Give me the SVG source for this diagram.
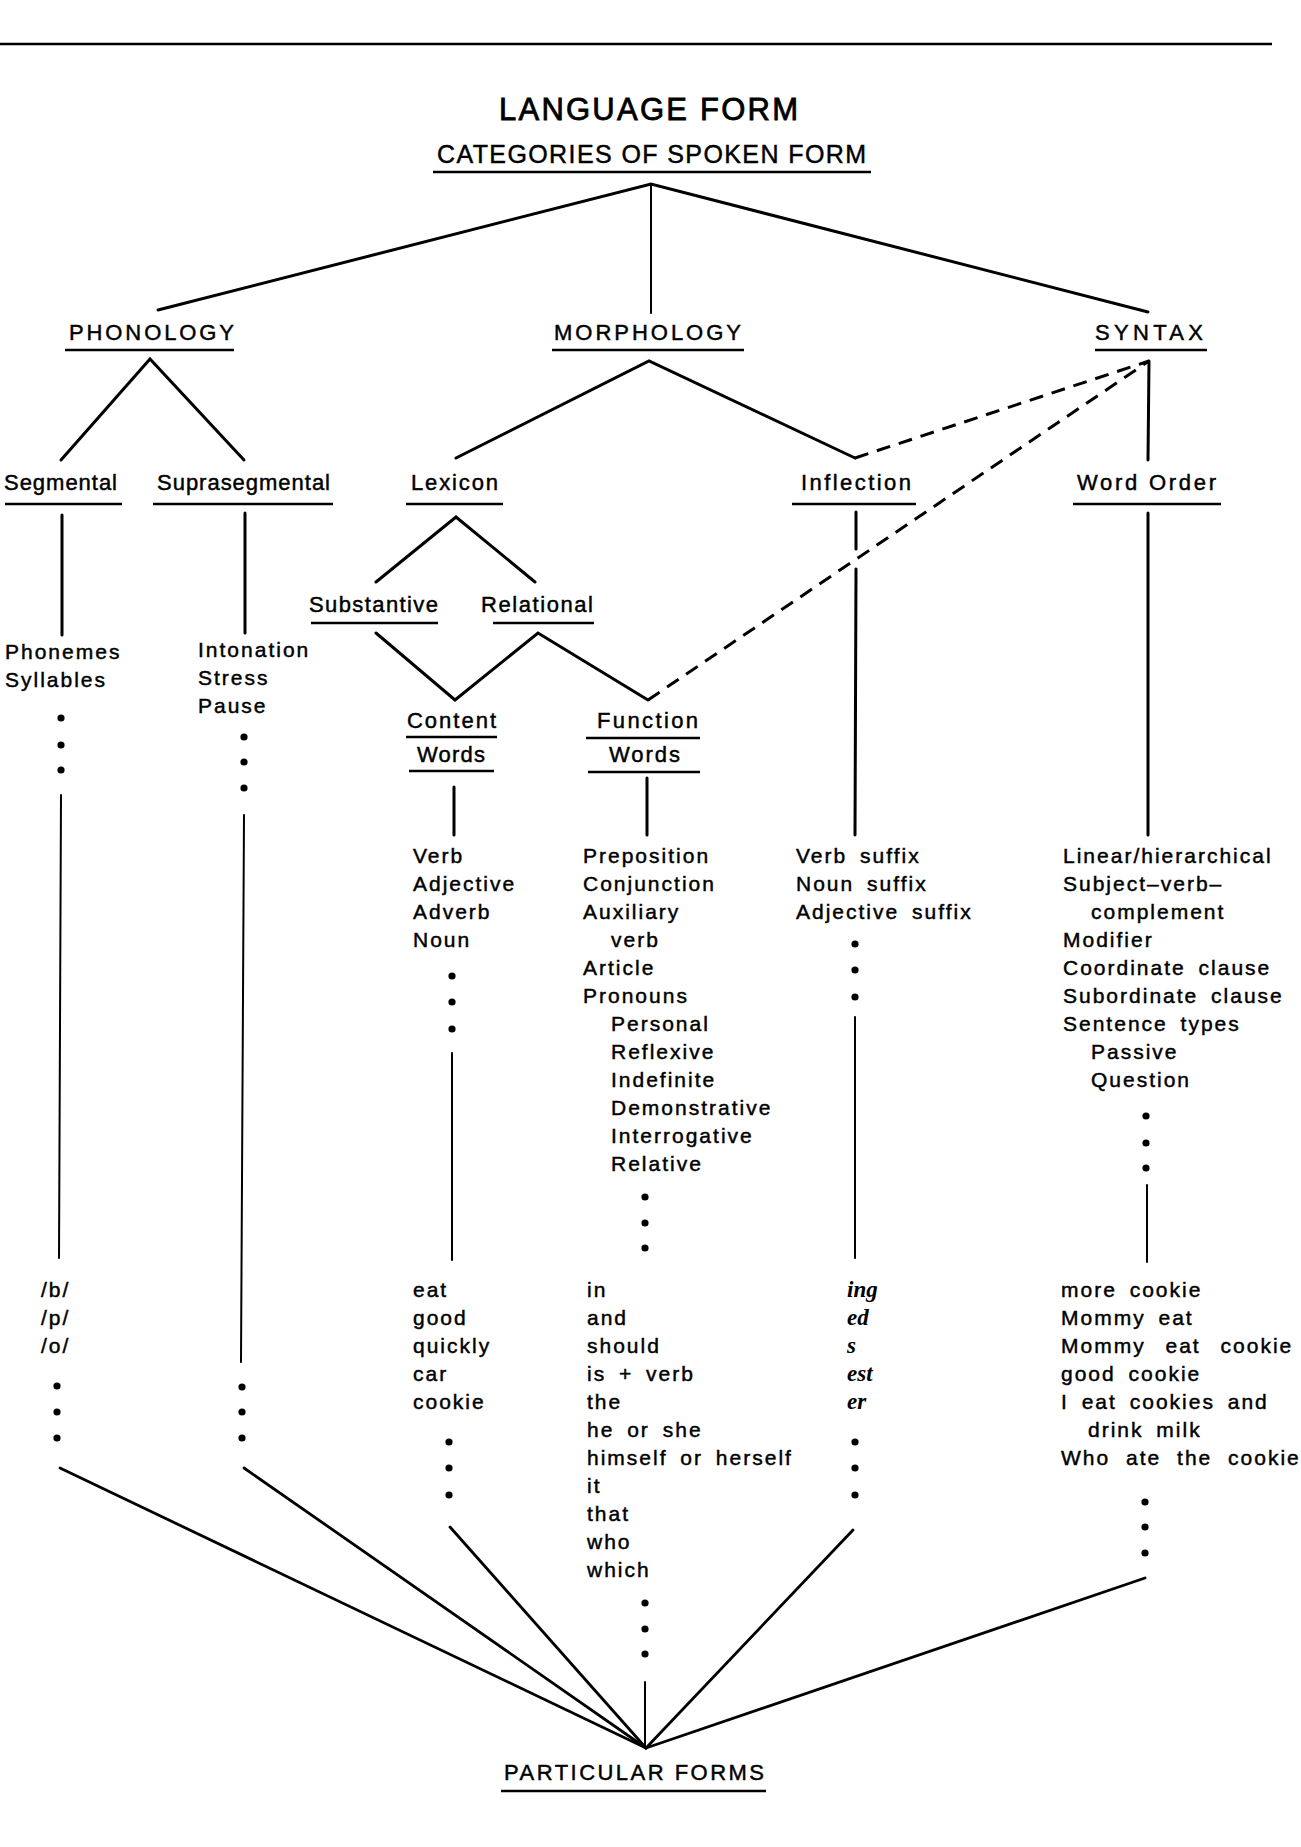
<svg xmlns="http://www.w3.org/2000/svg" width="1301" height="1847" viewBox="0 0 1301 1847">
<style>
text{font-family:"Liberation Sans",Arial,sans-serif;fill:#000;stroke:#000;stroke-width:0.45}
.t{font-size:21px;letter-spacing:2px;word-spacing:5px}
.h{font-size:22px}
.it{font-family:"Liberation Serif","Times New Roman",serif;font-style:italic;font-weight:bold;font-size:23px;stroke-width:0}
.ln{stroke:#000;stroke-width:3;fill:none;stroke-linecap:round}
.thin{stroke-width:2}
.low{stroke-width:2.8}
.ul{stroke:#000;stroke-width:2.6;fill:none}
.dash{stroke-dasharray:14 9;stroke-linecap:butt}
.dot{fill:#000}
</style>
<rect width="1301" height="1847" fill="#fff"/>
<line x1="0" y1="44" x2="1272" y2="44" class="ul"/>

<g id="title">
<text x="499" y="120" style="font-size:31px;stroke-width:0.8" textLength="299" lengthAdjust="spacing">LANGUAGE FORM</text>
</g>
<g id="categories">
<text x="437" y="163" style="font-size:25px" textLength="429" lengthAdjust="spacing">CATEGORIES OF SPOKEN FORM</text>
<line x1="433" y1="172" x2="871" y2="172" class="ul"/>
</g>
<g id="phonology">
<text x="69" y="340" class="h" textLength="165" lengthAdjust="spacing">PHONOLOGY</text>
<line x1="65" y1="350" x2="234" y2="350" class="ul"/>
</g>
<g id="morphology">
<text x="554" y="340" class="h" textLength="187" lengthAdjust="spacing">MORPHOLOGY</text>
<line x1="552" y1="350" x2="744" y2="350" class="ul"/>
</g>
<g id="syntax">
<text x="1095" y="340" class="h" textLength="108" lengthAdjust="spacing">SYNTAX</text>
<line x1="1095" y1="350" x2="1207" y2="350" class="ul"/>
</g>
<g id="segmental">
<text x="4" y="490" class="h" textLength="113" lengthAdjust="spacing">Segmental</text>
<line x1="5" y1="504" x2="122" y2="504" class="ul"/>
</g>
<g id="suprasegmental">
<text x="157" y="490" class="h" textLength="173" lengthAdjust="spacing">Suprasegmental</text>
<line x1="153" y1="504" x2="333" y2="504" class="ul"/>
</g>
<g id="lexicon">
<text x="411" y="490" class="h" textLength="87" lengthAdjust="spacing">Lexicon</text>
<line x1="406" y1="504" x2="503" y2="504" class="ul"/>
</g>
<g id="inflection">
<text x="801" y="490" class="h" textLength="110" lengthAdjust="spacing">Inflection</text>
<line x1="792" y1="504" x2="916" y2="504" class="ul"/>
</g>
<g id="word-order">
<text x="1077" y="490" class="h" textLength="139" lengthAdjust="spacing">Word Order</text>
<line x1="1073" y1="504" x2="1221" y2="504" class="ul"/>
</g>
<g id="substantive">
<text x="309" y="612" class="h" textLength="129" lengthAdjust="spacing">Substantive</text>
<line x1="311" y1="623" x2="438" y2="623" class="ul"/>
</g>
<g id="relational">
<text x="481" y="612" class="h" textLength="112" lengthAdjust="spacing">Relational</text>
<line x1="493" y1="623" x2="594" y2="623" class="ul"/>
</g>
<g id="content-words">
<text x="407" y="728" class="h" textLength="89" lengthAdjust="spacing">Content</text>
<line x1="406" y1="737" x2="497" y2="737" class="ul"/>
<text x="417" y="762" class="h" textLength="68" lengthAdjust="spacing">Words</text>
<line x1="409" y1="771" x2="494" y2="771" class="ul"/>
</g>
<g id="function-words">
<text x="597" y="728" class="h" textLength="101" lengthAdjust="spacing">Function</text>
<line x1="586" y1="738" x2="700" y2="738" class="ul"/>
<text x="609" y="762" class="h" textLength="71" lengthAdjust="spacing">Words</text>
<line x1="588" y1="772" x2="700" y2="772" class="ul"/>
</g>

<g id="segmental-list">
<text x="5" y="659" class="t">Phonemes</text>
<text x="5" y="687" class="t">Syllables</text>
<circle class="dot" cx="61" cy="718" r="3.6"/><circle class="dot" cx="61" cy="745" r="3.6"/><circle class="dot" cx="61" cy="770" r="3.6"/>
</g>
<g id="suprasegmental-list">
<text x="198" y="657" class="t">Intonation</text>
<text x="198" y="685" class="t">Stress</text>
<text x="198" y="713" class="t">Pause</text>
<circle class="dot" cx="244" cy="737" r="3.6"/><circle class="dot" cx="244" cy="762" r="3.6"/><circle class="dot" cx="244" cy="788" r="3.6"/>
</g>
<g id="content-list">
<text x="413" y="863" class="t">Verb</text>
<text x="413" y="891" class="t">Adjective</text>
<text x="413" y="919" class="t">Adverb</text>
<text x="413" y="947" class="t">Noun</text>
<circle class="dot" cx="452" cy="976" r="3.6"/><circle class="dot" cx="452" cy="1002" r="3.6"/><circle class="dot" cx="452" cy="1029" r="3.6"/>
</g>
<g id="function-list">
<text x="583" y="863" class="t">Preposition</text>
<text x="583" y="891" class="t">Conjunction</text>
<text x="583" y="919" class="t">Auxiliary</text>
<text x="611" y="947" class="t">verb</text>
<text x="583" y="975" class="t">Article</text>
<text x="583" y="1003" class="t">Pronouns</text>
<text x="611" y="1031" class="t">Personal</text>
<text x="611" y="1059" class="t">Reflexive</text>
<text x="611" y="1087" class="t">Indefinite</text>
<text x="611" y="1115" class="t">Demonstrative</text>
<text x="611" y="1143" class="t">Interrogative</text>
<text x="611" y="1171" class="t">Relative</text>
<circle class="dot" cx="645" cy="1197" r="3.6"/><circle class="dot" cx="645" cy="1223" r="3.6"/><circle class="dot" cx="645" cy="1248" r="3.6"/>
</g>
<g id="inflection-list">
<text x="796" y="863" class="t">Verb suffix</text>
<text x="796" y="891" class="t">Noun suffix</text>
<text x="796" y="919" class="t">Adjective suffix</text>
<circle class="dot" cx="855" cy="944" r="3.6"/><circle class="dot" cx="855" cy="970" r="3.6"/><circle class="dot" cx="855" cy="997" r="3.6"/>
</g>
<g id="word-order-list">
<text x="1063" y="863" class="t">Linear/hierarchical</text>
<text x="1063" y="891" class="t">Subject–verb–</text>
<text x="1091" y="919" class="t">complement</text>
<text x="1063" y="947" class="t">Modifier</text>
<text x="1063" y="975" class="t">Coordinate clause</text>
<text x="1063" y="1003" class="t">Subordinate clause</text>
<text x="1063" y="1031" class="t">Sentence types</text>
<text x="1091" y="1059" class="t">Passive</text>
<text x="1091" y="1087" class="t">Question</text>
<circle class="dot" cx="1146" cy="1116" r="3.6"/><circle class="dot" cx="1146" cy="1143" r="3.6"/><circle class="dot" cx="1146" cy="1168" r="3.6"/>
</g>

<g id="segmental-forms">
<text x="41" y="1297" class="t">/b/</text>
<text x="41" y="1325" class="t">/p/</text>
<text x="41" y="1353" class="t">/o/</text>
<circle class="dot" cx="57" cy="1386" r="3.6"/><circle class="dot" cx="57" cy="1412" r="3.6"/><circle class="dot" cx="57" cy="1438" r="3.6"/>
</g>
<g id="suprasegmental-forms">
<circle class="dot" cx="242" cy="1387" r="3.6"/><circle class="dot" cx="242" cy="1412" r="3.6"/><circle class="dot" cx="242" cy="1438" r="3.6"/>
</g>
<g id="content-forms">
<text x="413" y="1297" class="t">eat</text>
<text x="413" y="1325" class="t">good</text>
<text x="413" y="1353" class="t">quickly</text>
<text x="413" y="1381" class="t">car</text>
<text x="413" y="1409" class="t">cookie</text>
<circle class="dot" cx="449" cy="1442" r="3.6"/><circle class="dot" cx="449" cy="1468" r="3.6"/><circle class="dot" cx="449" cy="1495" r="3.6"/>
</g>
<g id="function-forms">
<text x="587" y="1297" class="t">in</text>
<text x="587" y="1325" class="t">and</text>
<text x="587" y="1353" class="t">should</text>
<text x="587" y="1381" class="t">is + verb</text>
<text x="587" y="1409" class="t">the</text>
<text x="587" y="1437" class="t">he or she</text>
<text x="587" y="1465" class="t">himself or herself</text>
<text x="587" y="1493" class="t">it</text>
<text x="587" y="1521" class="t">that</text>
<text x="587" y="1549" class="t">who</text>
<text x="587" y="1577" class="t">which</text>
<circle class="dot" cx="645" cy="1603" r="3.6"/><circle class="dot" cx="645" cy="1629" r="3.6"/><circle class="dot" cx="645" cy="1654" r="3.6"/>
</g>
<g id="inflection-forms">
<text x="847" y="1297" class="it">ing</text>
<text x="847" y="1325" class="it">ed</text>
<text x="847" y="1353" class="it">s</text>
<text x="847" y="1381" class="it">est</text>
<text x="847" y="1409" class="it">er</text>
<circle class="dot" cx="855" cy="1442" r="3.6"/><circle class="dot" cx="855" cy="1468" r="3.6"/><circle class="dot" cx="855" cy="1495" r="3.6"/>
</g>
<g id="word-order-forms">
<text x="1061" y="1297" class="t">more cookie</text>
<text x="1061" y="1325" class="t">Mommy eat</text>
<text x="1061" y="1353" class="t" style="word-spacing:12px">Mommy eat cookie</text>
<text x="1061" y="1381" class="t">good cookie</text>
<text x="1061" y="1409" class="t">I eat cookies and</text>
<text x="1088" y="1437" class="t">drink milk</text>
<text x="1061" y="1465" class="t" style="word-spacing:8px">Who ate the cookie</text>
<circle class="dot" cx="1145" cy="1502" r="3.6"/><circle class="dot" cx="1145" cy="1527" r="3.6"/><circle class="dot" cx="1145" cy="1553" r="3.6"/>
</g>
<g id="particular-forms">
<text x="504" y="1780" style="font-size:22px" textLength="260" lengthAdjust="spacing">PARTICULAR FORMS</text>
<line x1="501" y1="1791" x2="766" y2="1791" class="ul"/>
</g>

<g id="connectors">
<polyline class="ln" points="158,310 651,184 1148,312"/>
<line class="ln thin" x1="651" y1="184" x2="651" y2="313"/>
<polyline class="ln" points="61,460 150,359 244,460"/>
<polyline class="ln" points="456,458 649,361 855,458"/>
<line class="ln" x1="1149" y1="361" x2="1148" y2="460"/>
<line class="ln dash" x1="855" y1="458" x2="1149" y2="361"/>
<line class="ln dash" x1="648" y1="700" x2="1149" y2="361"/>
<polyline class="ln" points="376,582 456,517 535,582"/>
<polyline class="ln" points="376,633 455,700 538,633 648,700"/>
<line class="ln" x1="62" y1="515" x2="62" y2="635"/>
<line class="ln" x1="245" y1="513" x2="245" y2="633"/>
<line class="ln thin" x1="61" y1="795" x2="59" y2="1258"/>
<line class="ln thin" x1="244" y1="815" x2="241" y2="1362"/>
<line class="ln" x1="454" y1="787" x2="454" y2="835"/>
<line class="ln" x1="647" y1="778" x2="647" y2="835"/>
<line class="ln thin" x1="452" y1="1053" x2="452" y2="1260"/>
<line class="ln" x1="856" y1="512" x2="856" y2="549"/>
<line class="ln" x1="856" y1="569" x2="855" y2="835"/>
<line class="ln thin" x1="855" y1="1017" x2="855" y2="1258"/>
<line class="ln" x1="1148" y1="513" x2="1148" y2="835"/>
<line class="ln thin" x1="1147" y1="1185" x2="1147" y2="1262"/>
<line class="ln thin" x1="645" y1="1682" x2="645" y2="1748"/>
<line class="ln low" x1="60" y1="1468" x2="646" y2="1748"/>
<line class="ln low" x1="244" y1="1468" x2="646" y2="1748"/>
<line class="ln low" x1="450" y1="1527" x2="646" y2="1748"/>
<line class="ln low" x1="853" y1="1530" x2="646" y2="1748"/>
<line class="ln low" x1="1145" y1="1578" x2="646" y2="1748"/>
</g>
</svg>
